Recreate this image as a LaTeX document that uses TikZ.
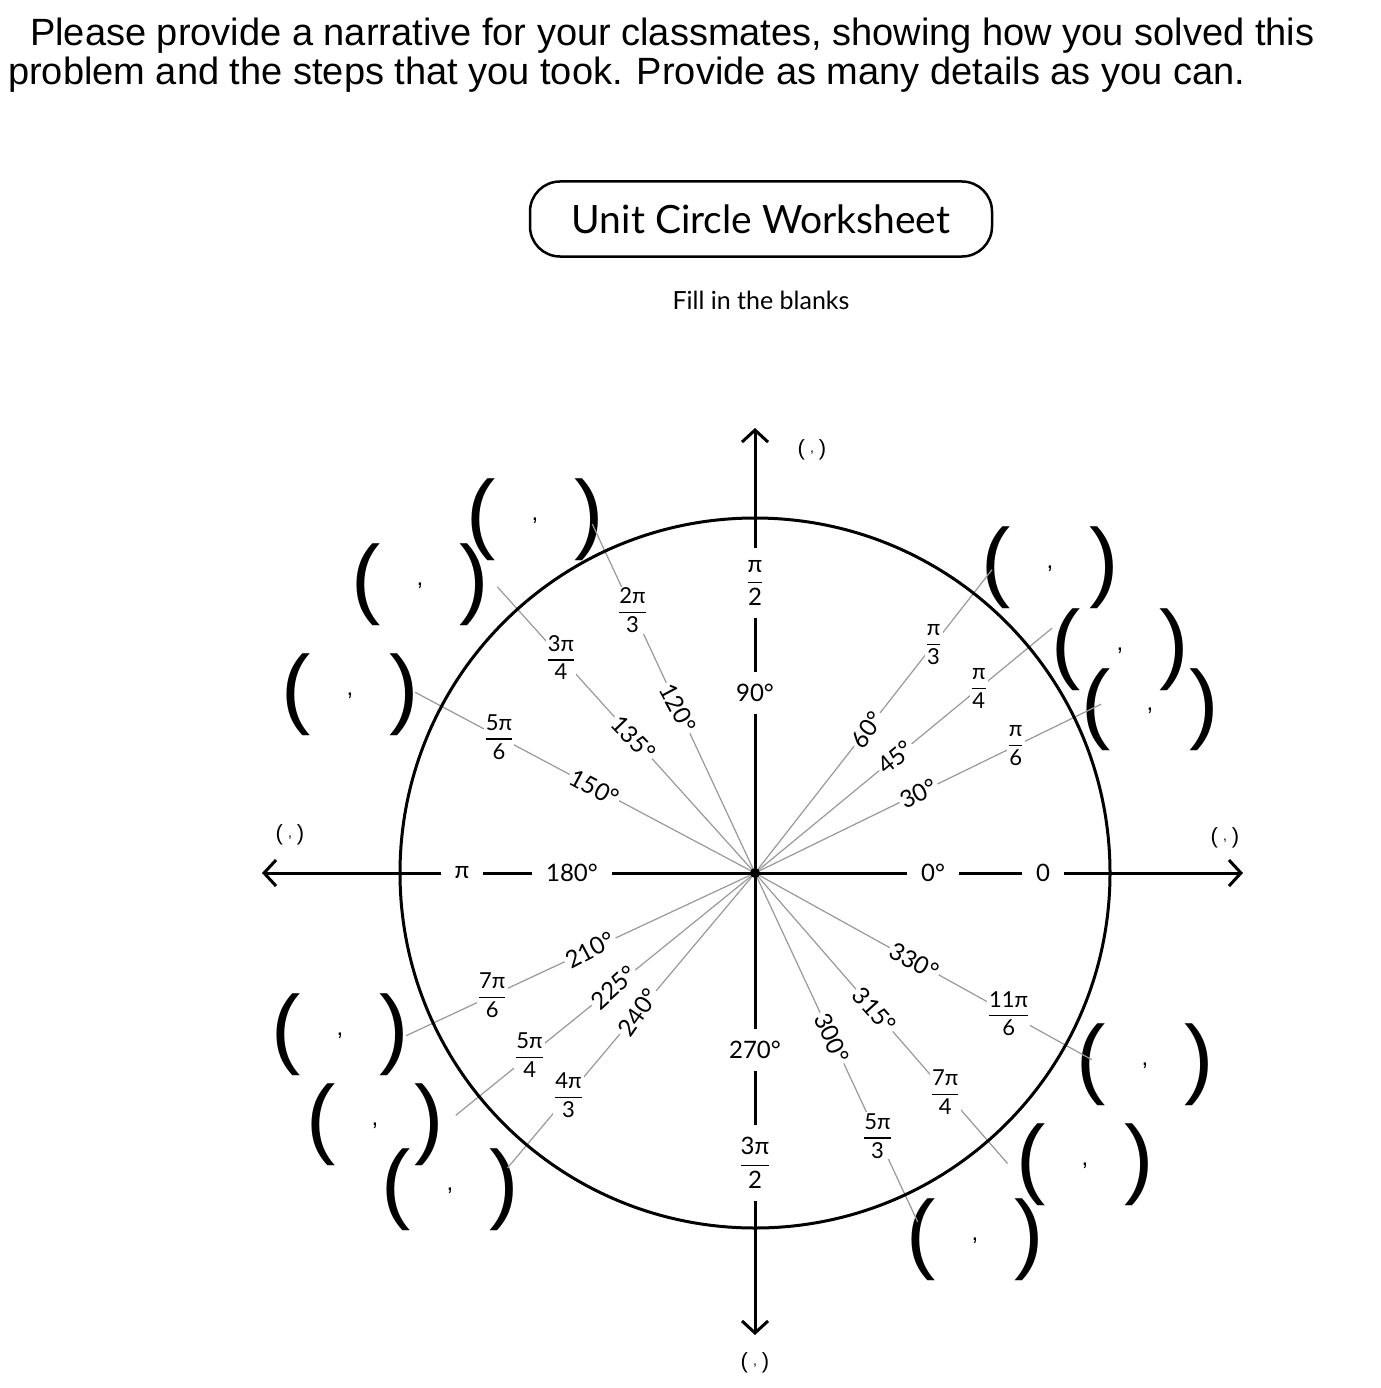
\documentclass[tikz,border=0pt]{standalone}
\usetikzlibrary{arrows.meta}
\usepackage{amsmath}
\usepackage{fontspec}
\setmainfont{Liberation Sans}
\newfontfamily\lato{Lato}
\newcommand\fr[2]{$\genfrac{}{}{1.2pt}{0}{\mbox{#1}}{\mbox{#2}}$}
\newcommand\paren{{\fontsize{88}{88}\selectfont(\hspace{36pt}\raisebox{22pt}{\fontsize{24}{24}\selectfont,}\hspace{36pt})}}
\newcommand\sparen{{\fontsize{22}{22}\selectfont(\hspace{5pt}\raisebox{3pt}{\fontsize{14}{14}\selectfont,}\hspace{5pt})}}
\begin{document}
\begin{tikzpicture}[x=1pt,y=1pt,
  lbl/.style={font=\lato\fontsize{24}{24}\selectfont,fill=white,inner sep=2pt},
  axl/.style={font=\lato\fontsize{24}{24}\selectfont,fill=white,inner xsep=14pt,inner ysep=2pt},
  axv/.style={font=\lato\fontsize{24}{24}\selectfont,fill=white,inner xsep=2pt,inner ysep=12pt},
  frl/.style={font=\lato\fontsize{22}{22}\selectfont,fill=white,inner sep=1pt},
  par/.style={inner sep=0pt},
  ray/.style={draw=gray!80,line width=1.2pt},
  ax/.style={line width=3pt,-{Straight Barb[length=12pt,width=26pt,line width=3pt]}}]
\useasboundingbox[fill=white] (0,0) rectangle (1380,-1388);
\node[anchor=west,font=\fontsize{38}{38}\selectfont,inner sep=0pt] (h1) at (30,-36) {Please provide a narrative for your classmates, showing how you solved this};
\node[anchor=west,font=\fontsize{38}{38}\selectfont,inner sep=0pt] (h2) at (8,-75) {problem and the steps that you took. Provide as many details as you can.};
\node[draw,line width=2.5pt,rounded corners=30pt,minimum width=462pt,minimum height=75pt,font=\lato\fontsize{39}{39}\selectfont] (title) at (761,-219) {Unit Circle Worksheet};
\node[font=\lato\fontsize{25}{25}\selectfont] (fill) at (761,-300) {Fill in the blanks};
\foreach \x/\y [count=\i] in {1150/710,1120/650,1050/568,535/520,420/585,350/695,340/1035,375/1125,450/1190,975/1240,1085/1165,1145/1065}
  \node[par] (p\i) at (\x,-\y) {\paren};
\begin{scope}[shift={(755,-873)}]
\coordinate (O) at (0,0);
\foreach \a in {26,39.5,52,115,132,152,205,219,230,295,311,331}
  \draw[ray] (O) -- (\a:385);
\draw[line width=3pt] (O) circle (355);
\draw[ax] (-80,0) -- (-493,0);
\draw[ax] (80,0) -- (488,0);
\draw[ax] (0,-80) -- (0,-462);
\draw[ax] (0,80) -- (0,445);
\draw[line width=3pt] (-80,0) -- (80,0) (0,-80) -- (0,80);
\fill (O) circle (5);
\foreach \a/\r/\d/\f in {26/26/30/{\fr{π}{6}},39.5/39.5/45/{\fr{π}{4}},52/55/60/{\fr{π}{3}},
  115/-62/120/{\fr{2π}{3}},132/-46/135/{\fr{3π}{4}},152/-28/150/{\fr{5π}{6}},
  205/28/210/{\fr{7π}{6}},219/42/225/{\fr{5π}{4}},230/55/240/{\fr{4π}{3}},
  295/-65/300/{\fr{5π}{3}},311/-48/315/{\fr{7π}{4}},331/-28/330/{\fr{11π}{6}}}{
  \node[lbl,rotate=\r] (d\d) at (\a:182) {\d°};
  \node[frl] (f\d) at (\a:290) {\f};
}
\node[axl] (d0) at (0:178) {0°};
\node[axv] (d90) at (90:180) {90°};
\node[axl] (d180) at (180:183) {180°};
\node[axv] (d270) at (270:177) {270°};
\node[axl] (f0) at (0:288) {0};
\node[axv] (f90) at (90:290) {\fr{π}{2}};
\node[axl] (f180) at (180:293) {π};
\node[axv] (f270) at (270:290) {\fr{3π}{2}};
\node[par] (s0) at (470,35) {\sparen};
\node[par] (s180) at (-465,38) {\sparen};
\node[par] (s90) at (57,423) {\sparen};
\node[par] (s270) at (0,-490) {\sparen};
\end{scope}
\end{tikzpicture}
\end{document}
